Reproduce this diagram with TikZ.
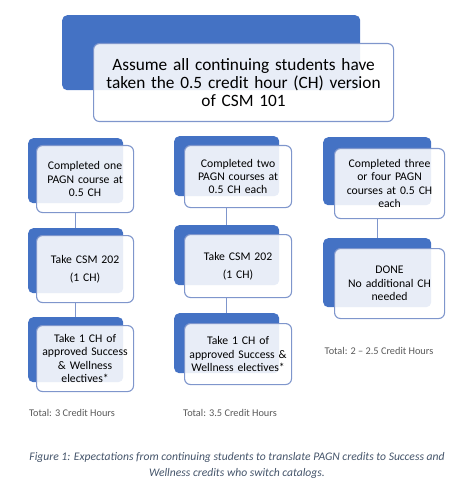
\documentclass[tikz,border=0pt]{standalone}
\usepackage{fontspec}
\setmainfont{Carlito}
\usepackage{tikz}
\usetikzlibrary{positioning,calc}
\usepackage{xcolor}
\definecolor{cardblue}{HTML}{4472C4}
\definecolor{cardedge}{HTML}{7F96CC}
\definecolor{totalgray}{HTML}{595959}
\definecolor{captionink}{HTML}{44546A}

\tikzset{
  backcard/.style={fill=cardblue,rounded corners=5pt,inner sep=0pt,anchor=north west},
  frontcard/.style={draw=cardedge,line width=1.1pt,fill=white,fill opacity=0.88,text opacity=1,
    rounded corners=6pt,inner sep=0pt,anchor=north west,align=center,font=\fontsize{11.7}{13.4}\selectfont},
  link/.style={draw=cardedge,line width=1.3pt},
  totaltext/.style={text=totalgray,font=\fontsize{10.3}{12}\selectfont}
}

\begin{document}
\begin{tikzpicture}[x=1pt,y=-1pt]
\useasboundingbox (0,0) rectangle (474,489);
% top statement
\node[backcard,minimum width=298pt,minimum height=75pt] (btop) at (62,15) {};
\node[frontcard,minimum width=300pt,minimum height=78pt,text width=294pt,
  font=\fontsize{17.3}{18.4}\selectfont] (ctop) at (93,43)
  {Assume all continuing students have\\taken the 0.5 credit hour (CH) version\\of CSM 101};

% column one
\node[backcard,minimum width=95pt,minimum height=65pt] (ba1) at (28,138) {};
\node[frontcard,minimum width=97pt,minimum height=67pt,text width=95pt] (ca1) at (36,145)
  {Completed one\\PAGN course at\\0.5 CH};
\node[backcard,minimum width=95pt,minimum height=65pt] (ba2) at (28,228) {};
\node[frontcard,minimum width=97pt,minimum height=67pt,text width=95pt] (ca2) at (36,235)
  {Take CSM 202\\[5pt](1 CH)};
\node[backcard,minimum width=95pt,minimum height=65pt] (ba3) at (28,317) {};
\node[frontcard,minimum width=97pt,minimum height=66pt,text width=95pt] (ca3) at (36,325)
  {Take 1 CH of\\approved Success\\\& Wellness\\electives*};
\node[totaltext] (tota) at (72,413) {Total: 3 Credit Hours};

% column two
\node[backcard,minimum width=105pt,minimum height=60pt] (bb1) at (174,136) {};
\node[frontcard,minimum width=107pt,minimum height=62pt,text width=105pt] (cb1) at (184,145)
  {Completed two\\PAGN courses at\\0.5 CH each};
\node[backcard,minimum width=105pt,minimum height=60pt] (bb2) at (174,225) {};
\node[frontcard,minimum width=107pt,minimum height=63pt,text width=105pt] (cb2) at (184,234)
  {Take CSM 202\\[5pt](1 CH)};
\node[backcard,minimum width=105pt,minimum height=60pt] (bb3) at (174,313) {};
\node[frontcard,minimum width=107pt,minimum height=61pt,text width=105pt] (cb3) at (184,323)
  {Take 1 CH of\\approved Success \&\\Wellness electives*};
\node[totaltext] (totb) at (230,413) {Total: 3.5 Credit Hours};

% column three
\node[backcard,minimum width=108pt,minimum height=68pt] (bc1) at (323,137) {};
\node[frontcard,minimum width=110pt,minimum height=70pt,text width=108pt] (cc1) at (334,148)
  {Completed three\\or four PAGN\\courses at 0.5 CH\\each};
\node[backcard,minimum width=108pt,minimum height=69pt] (bc2) at (323,238) {};
\node[frontcard,minimum width=110pt,minimum height=70pt,text width=108pt] (cc2) at (334,248)
  {DONE\\No additional CH\\needed};
\node[totaltext] (totc) at (379,351) {Total: 2 -- 2.5 Credit Hours};

% links between the cards
\foreach \up/\upback/\down in {ca1/ba1/ba2,ca2/ba2/ba3,cb1/bb1/bb2,cb2/bb2/bb3,cc1/bc1/bc2}
  \draw[link] (\upback.south |- \up.south) -- (\down.north);

% caption
\node[text=captionink,align=center,font=\fontsize{11.6}{16}\selectfont\itshape] (caption) at (237,465)
  {Figure 1: Expectations from continuing students to translate PAGN credits to Success and\\Wellness credits who switch catalogs.};
\end{tikzpicture}
\end{document}
